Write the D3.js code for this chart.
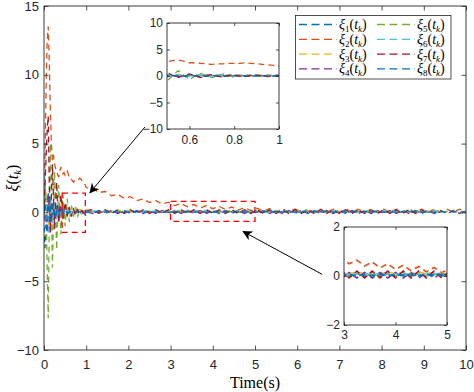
<!DOCTYPE html>
<html><head><meta charset="utf-8">
<script src="https://cdn.jsdelivr.net/npm/d3@7"></script>
<style>body{margin:0;background:#fff}svg{display:block}</style>
</head><body>
<svg id="c" width="474" height="392"></svg>
<script>
const time = [0,0.025,0.05,0.075,0.1,0.125,0.15,0.175,0.2,0.225,0.25,0.275,0.3,0.325,0.35,0.375,0.4,0.425,0.45,0.475,0.5,0.525,0.55,0.575,0.6,0.625,0.65,0.675,0.7,0.725,0.75,0.775,0.8,0.825,0.85,0.875,0.9,0.925,0.95,0.975,1.0,
1.15,1.3,1.45,1.6,1.75,1.9,2.05,2.2,2.35,2.5,2.65,2.8,2.95,3.1,3.25,3.4,3.55,3.7,3.85,4.0,4.15,4.3,4.45,4.6,4.75,4.9,5.05,5.2,5.35,5.5,5.65,5.8,5.95,6.1,6.25,6.4,6.55,6.7,6.85,7.0,7.15,7.3,7.45,7.6,7.75,7.9,8.05,8.2,8.35,8.5,8.65,8.8,8.95,9.1,9.25,9.4,9.55,9.7,9.85,10.0];

const xi1 = [-1.0,-2.6,-1.5,0.5,1.5,0.5,-1.0,-0.3,0.8,0.2,-0.6,0.0,0.5,0.1,-0.4,0.0,0.3,0.05,-0.25,0.0,0.15,0.05,-0.1,0.0,0.1,0.05,-0.05,0.0,0.08,0.05,0.0,0.02,0.06,0.04,0.0,0.02,0.05,0.04,0.0,0.02,0.05,
0.06,0.0,0.06,0.0,0.06,0.0,0.06,0.0,0.06,0.0,0.06,0.0,0.06,0.0,0.06,0.0,0.06,0.0,0.06,0.0,0.06,0.0,0.06,0.0,0.06,0.0,0.06,0.0,0.06,0.0,0.06,0.0,0.06,0.0,0.06,0.0,0.06,0.0,0.06,0.0,0.06,0.0,0.06,0.0,0.06,0.0,0.06,0.0,0.06,0.0,0.06,0.0,0.06,0.0,0.06,0.0];
const xi2 = [1.0,4.0,9.0,12.5,13.5,11.0,7.5,5.0,3.8,4.2,3.5,3.2,3.0,2.7,2.6,3.0,3.3,3.0,2.8,2.9,2.7,2.9,3.0,2.8,2.5,2.5,2.4,2.3,2.2,2.3,2.3,2.4,2.4,2.4,2.5,2.4,2.3,2.2,2.1,2.0,1.8,
1.76,1.44,1.52,1.21,1.31,1.02,1.14,0.86,0.98,0.72,0.86,0.60,0.74,0.50,0.65,0.41,0.57,0.33,0.50,0.27,0.44,0.22,0.39,0.17,0.35,0.13,0.31,0.08,0.28,0.06,0.26,0.04,0.25,0.03,0.24,0.02,0.24,0.02,0.23,0.02,0.23,0.02,0.23,0.02,0.23,0.02,0.23,0.02,0.23,0.02,0.23,0.02,0.23,0.02,0.23,0.02,0.23,0.02,0.23,0.02];
const xi3 = [-0.3,0.8,1.5,0.5,-1.0,-0.5,0.8,0.3,-0.6,0.0,0.5,0.2,-0.3,0.1,0.4,0.2,-0.1,0.1,0.3,0.2,0.1,0.15,0.3,0.2,0.15,0.2,0.25,0.2,0.2,0.2,0.25,0.2,0.2,0.2,0.22,0.2,0.18,0.2,0.2,0.18,0.18,
0.15,0.1,0.15,0.1,0.15,0.1,0.15,0.1,0.15,0.1,0.15,0.1,0.15,0.1,0.15,0.1,0.15,0.1,0.15,0.1,0.15,0.1,0.15,0.1,0.15,0.1,0.15,0.1,0.15,0.1,0.15,0.1,0.15,0.1,0.15,0.1,0.15,0.1,0.15,0.1,0.15,0.1,0.15,0.1,0.15,0.1,0.15,0.1,0.15,0.1,0.15,0.1,0.15,0.1,0.15,0.1];
const xi4 = [0.5,-0.5,-1.2,0.0,1.2,0.3,-0.9,-0.2,0.7,0.1,-0.5,0.0,0.4,0.0,-0.3,0.0,0.25,0.0,-0.2,0.0,0.15,0.0,-0.1,0.0,0.1,0.0,-0.1,0.0,0.1,0.0,-0.05,0.0,0.1,0.0,-0.05,0.0,0.1,0.0,-0.05,0.0,0.05,
-0.08,0.14,-0.08,0.14,-0.08,0.14,-0.08,0.14,-0.08,0.14,-0.08,0.14,-0.08,0.14,-0.08,0.14,-0.08,0.14,-0.08,0.14,-0.08,0.14,-0.08,0.14,-0.08,0.14,-0.08,0.14,-0.08,0.14,-0.08,0.14,-0.08,0.14,-0.08,0.14,-0.08,0.14,-0.08,0.14,-0.08,0.14,-0.08,0.14,-0.08,0.14,-0.08,0.14,-0.08,0.14,-0.08,0.14,-0.08,0.14,-0.08,0.14,-0.08,0.14,-0.08,0.14];
const xi5 = [0.5,2.0,1.0,-4.0,-7.7,-1.0,5.0,1.0,-4.0,0.0,3.0,0.2,-2.7,0.0,2.0,0.2,-1.6,0.0,1.3,0.1,-1.0,0.1,1.0,0.2,-0.7,0.0,0.5,0.1,-0.3,0.0,0.4,0.1,-0.25,0.0,0.2,0.05,-0.1,0.0,0.1,0.0,0.0,
0.08,0.0,0.08,0.0,0.08,0.0,0.08,0.0,0.08,0.0,0.08,0.0,0.08,0.0,0.08,0.0,0.08,0.0,0.08,0.0,0.08,0.0,0.08,0.0,0.08,0.0,0.08,0.0,0.08,0.0,0.08,0.0,0.08,0.0,0.08,0.0,0.08,0.0,0.08,0.0,0.08,0.0,0.08,0.0,0.08,0.0,0.08,0.0,0.08,0.0,0.08,0.0,0.08,0.0,0.08,0.0,0.08,0.0,0.08,0.0];
const xi6 = [2.8,2.0,0.5,-1.0,-1.5,0.0,1.2,0.5,-0.8,0.0,0.7,0.2,-0.5,0.0,0.4,0.1,-0.3,0.0,0.25,0.1,-0.1,0.1,0.2,0.1,0.0,0.1,0.15,0.1,0.05,0.1,0.12,0.1,0.08,0.1,0.1,0.1,0.1,0.1,0.1,0.1,0.1,
0.1,0.08,0.1,0.08,0.1,0.08,0.1,0.08,0.1,0.08,0.1,0.08,0.1,0.08,0.1,0.08,0.1,0.08,0.1,0.08,0.1,0.08,0.1,0.08,0.1,0.08,0.1,0.08,0.1,0.08,0.1,0.08,0.1,0.08,0.1,0.08,0.1,0.08,0.1,0.08,0.1,0.08,0.1,0.08,0.1,0.08,0.1,0.08,0.1,0.08,0.1,0.08,0.1,0.08,0.1,0.08];
const xi7 = [0.5,2.0,4.0,6.0,7.0,2.0,-1.5,1.0,3.5,1.0,-1.2,0.5,2.2,0.5,-0.8,0.3,1.3,0.3,-0.5,0.2,0.7,0.1,-0.3,0.1,0.4,0.0,-0.3,0.1,0.25,0.0,-0.2,0.1,0.2,0.0,-0.1,0.1,0.15,0.0,-0.1,0.1,0.1,
0.2,-0.08,0.2,-0.08,0.2,-0.08,0.2,-0.08,0.2,-0.08,0.2,-0.08,0.2,-0.08,0.2,-0.08,0.2,-0.08,0.2,-0.08,0.2,-0.08,0.2,-0.08,0.2,-0.08,0.2,-0.08,0.2,-0.08,0.2,-0.08,0.2,-0.08,0.2,-0.08,0.2,-0.08,0.2,-0.08,0.2,-0.08,0.2,-0.08,0.2,-0.08,0.2,-0.08,0.2,-0.08,0.2,-0.08,0.2,-0.08];
const xi8 = [0.0,1.0,-0.8,-1.5,0.0,1.0,0.3,-0.7,0.0,0.6,0.1,-0.4,0.0,0.3,0.1,-0.2,0.0,0.2,0.05,-0.1,0.0,0.1,0.05,-0.05,0.0,0.05,0.05,0.0,0.0,0.05,0.05,0.0,0.02,0.05,0.04,0.0,0.02,0.05,0.04,0.0,0.02,
0.0,0.07,0.0,0.07,0.0,0.07,0.0,0.07,0.0,0.07,0.0,0.07,0.0,0.07,0.0,0.07,0.0,0.07,0.0,0.07,0.0,0.07,0.0,0.07,0.0,0.07,0.0,0.07,0.0,0.07,0.0,0.07,0.0,0.07,0.0,0.07,0.0,0.07,0.0,0.07,0.0,0.07,0.0,0.07,0.0,0.07,0.0,0.07,0.0,0.07,0.0,0.07,0.0,0.07,0.0,0.07,0.0,0.07,0.0,0.07];

const seriesNames = ["1","2","3","4","5","6","7","8"];
const seriesColors = ["#0072BD","#D95319","#EDB120","#7E2F8E","#77AC30","#4DBEEE","#A2142F","#0072BD"];
const seriesValues = [xi1,xi2,xi3,xi4,xi5,xi6,xi7,xi8];

const xTicks = [0,1,2,3,4,5,6,7,8,9,10];
const yTicks = [15,10,5,0,-5,-10];
const inset1XTicks = [0.6,0.8,1];
const inset1YTicks = [10,5,0,-5,-10];
const inset2XTicks = [3,4,5];
const inset2YTicks = [2,0,-2];
const zoomBox1 = {x0:0.43, x1:0.98, y0:-1.45, y1:1.4};
const zoomBox2 = {x0:3, x1:5, y0:-0.65, y1:0.8};
const arrow1 = {from:[2.39,6.2], to:[1.09,1.43]};
const arrow2 = {from:[6.59,-4.5], to:[4.72,-1.39]};

const svg = d3.select("#c");
const AX = "#262626";
const sans = "'Liberation Sans', Arial, sans-serif";
const serif = "'Liberation Serif', 'Times New Roman', serif";

const data = seriesValues.map((vals,i)=>({name:seriesNames[i], color:seriesColors[i], pts: time.map((t,j)=>[t, vals[j]])}));

const defs = svg.append("defs");
defs.append("marker").attr("id","ah").attr("viewBox","0 0 10 10").attr("refX",9).attr("refY",5)
  .attr("markerWidth",10).attr("markerHeight",10).attr("markerUnits","userSpaceOnUse").attr("orient","auto")
  .append("path").attr("d","M0,0 L10,5 L0,10 L3,5 Z").attr("fill","#000");

function panel(box, xd, yd, xt, yt, id, fs, tl, opts) {
  const x = d3.scaleLinear().domain(xd).range([box.l, box.r]);
  const y = d3.scaleLinear().domain(yd).range([box.b, box.t]);
  const g = svg.append("g");
  g.append("rect").attr("x",box.l).attr("y",box.t).attr("width",box.r-box.l).attr("height",box.b-box.t).attr("fill","#fff");
  defs.append("clipPath").attr("id",id).append("rect").attr("x",box.l).attr("y",box.t).attr("width",box.r-box.l).attr("height",box.b-box.t);
  const line = d3.line().x(d=>x(d[0])).y(d=>y(d[1]));
  const lg = g.append("g").attr("clip-path",`url(#${id})`);
  data.forEach(s=>{
    lg.append("path").attr("d",line(s.pts)).attr("fill","none").attr("stroke",s.color)
      .attr("stroke-width",opts.lw).attr("stroke-dasharray",opts.dash);
  });
  const fmt = d3.format("~g");
  const axB = d3.axisBottom(x).tickValues(xt).tickSize(-tl).tickSizeOuter(0).tickPadding(opts.xpad).tickFormat(fmt);
  const axT = d3.axisTop(x).tickValues(xt).tickSize(-tl).tickSizeOuter(0).tickFormat("");
  const axL = d3.axisLeft(y).tickValues(yt).tickSize(-tl).tickSizeOuter(0).tickPadding(opts.ypad).tickFormat(fmt);
  const axR = d3.axisRight(y).tickValues(yt).tickSize(-tl).tickSizeOuter(0).tickFormat("");
  const gb = g.append("g").attr("transform",`translate(0,${box.b})`).call(axB);
  const gt = g.append("g").attr("transform",`translate(0,${box.t})`).call(axT);
  const gl = g.append("g").attr("transform",`translate(${box.l},0)`).call(axL);
  const gr = g.append("g").attr("transform",`translate(${box.r},0)`).call(axR);
  [gb,gt,gl,gr].forEach(a=>{
    a.select(".domain").remove();
    a.selectAll("line").attr("stroke",AX).attr("stroke-width",0.8);
    a.selectAll("text").attr("fill",AX).style("font-family",sans).style("font-size",fs+"px");
  });
  g.append("rect").attr("x",box.l).attr("y",box.t).attr("width",box.r-box.l).attr("height",box.b-box.t)
    .attr("fill","none").attr("stroke",AX).attr("stroke-width",0.9);
  return {x,y,g};
}

const main = panel({l:44,r:466,t:6,b:350}, [0,10], [-10,15], xTicks, yTicks, "cm", 13, 4.5, {lw:1.3, dash:"6,4", xpad:10, ypad:5});

[zoomBox1, zoomBox2].forEach(zb=>{
  svg.append("rect").attr("x",main.x(zb.x0)).attr("y",main.y(zb.y1))
    .attr("width",main.x(zb.x1)-main.x(zb.x0)).attr("height",main.y(zb.y0)-main.y(zb.y1))
    .attr("fill","none").attr("stroke","#FF0000").attr("stroke-width",1.3).attr("stroke-dasharray","6,4");
});

const leg = svg.append("g");
leg.append("rect").attr("x",295.5).attr("y",15.5).attr("width",155.5).attr("height",63.5)
  .attr("fill","#fff").attr("stroke",AX).attr("stroke-width",0.8);
data.forEach((s,i)=>{
  const col = Math.floor(i/4), row = i%4;
  const lx = col===0 ? 299 : 377;
  const ly = 24.5 + row*14.8;
  leg.append("line").attr("x1",lx).attr("x2",lx+38).attr("y1",ly).attr("y2",ly)
    .attr("stroke",s.color).attr("stroke-width",1.3).attr("stroke-dasharray","8,4.5");
  const t = leg.append("text").attr("x",lx+40).attr("y",ly+4.5).style("font-family",serif).style("font-size","14px").attr("fill","#000");
  t.append("tspan").style("font-style","italic").text("ξ");
  t.append("tspan").attr("dy",3).style("font-size","9px").text(s.name);
  t.append("tspan").attr("dy",-3).text("(");
  t.append("tspan").style("font-style","italic").text("t");
  t.append("tspan").attr("dy",3).style("font-size","9px").style("font-style","italic").text("k");
  t.append("tspan").attr("dy",-3).text(")");
});

[arrow1, arrow2].forEach(a=>{
  svg.append("line").attr("x1",main.x(a.from[0])).attr("y1",main.y(a.from[1]))
    .attr("x2",main.x(a.to[0])).attr("y2",main.y(a.to[1]))
    .attr("stroke","#000").attr("stroke-width",1).attr("marker-end","url(#ah)");
});

panel({l:167,r:279,t:23,b:129}, [0.5,1], [-10,10], inset1XTicks, inset1YTicks, "c1", 12, 3, {lw:1.3, dash:"6,4", xpad:6, ypad:4});
panel({l:344,r:447,t:227,b:325}, [3,5], [-2,2], inset2XTicks, inset2YTicks, "c2", 12, 3, {lw:1.6, dash:"6,4", xpad:5, ypad:4});

svg.append("text").attr("x",255).attr("y",388).attr("text-anchor","middle")
  .style("font-family",serif).style("font-size","16px").attr("fill","#000").text("Time(s)");
const yl = svg.append("text").attr("transform","translate(18,178) rotate(-90)").attr("text-anchor","middle")
  .style("font-family",serif).style("font-size","16px").attr("fill","#000");
yl.append("tspan").style("font-style","italic").text("ξ");
yl.append("tspan").text("(");
yl.append("tspan").style("font-style","italic").text("t");
yl.append("tspan").attr("dy",3).style("font-size","11px").style("font-style","italic").text("k");
yl.append("tspan").attr("dy",-3).text(")");
</script>
</body></html>
